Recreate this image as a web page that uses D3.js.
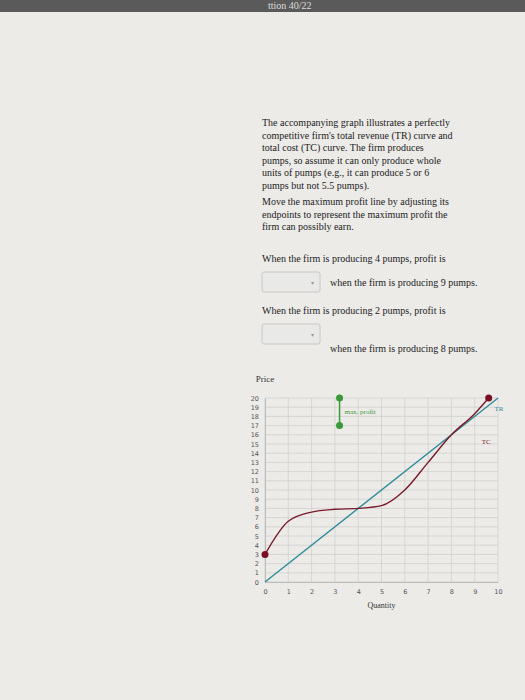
<!DOCTYPE html>
<html>
<head>
<meta charset="utf-8">
<script src="https://cdn.jsdelivr.net/npm/d3@7"></script>
<style>
body { margin:0; background:#d8d8d6; }
</style>
</head>
<body>
<script>
// chart data
var quantities = [0, 1, 2, 3, 4, 5, 6, 7, 8, 9, 9.6];
var tcValues = [3, 6.6, 7.6, 7.9, 8, 8.3, 10, 13, 16, 18.3, 20];
var trQuantities = [0, 10];
var trValues = [0, 20];
var maxProfitQ = 3.2;
var maxProfitEnds = [17, 20];
var priceTicks = d3.range(0, 21);
var qtyTicks = d3.range(0, 11);

var paragraphs = [
	"The accompanying graph illustrates a perfectly competitive firm's total revenue (TR) curve and total cost (TC) curve. The firm produces pumps, so assume it can only produce whole units of pumps (e.g., it can produce 5 or 6 pumps but not 5.5 pumps).",
	"Move the maximum profit line by adjusting its endpoints to represent the maximum profit the firm can possibly earn."
];

var width = 525, height = 700;
var svg = d3.select('body').append('svg')
	.attr('width', width)
	.attr('height', height);

// page background
svg.append('rect').attr('width', width).attr('height', height).attr('fill', '#ecebe8');
svg.append('rect').attr('x', 0).attr('y', 0).attr('width', width).attr('height', 12).attr('fill', '#5a5a5a');
svg.append('text').attr('x', 268).attr('y', 9).attr('font-family', 'Liberation Serif')
	.attr('font-size', '10px').attr('fill', '#ddd').text('ttion 40/22');

var fs = '10px';
function wrap(txt, x, y, maxW, lh)
{
	var t = svg.append('text').attr('x', x).attr('y', y)
		.attr('font-family', 'Liberation Serif').attr('font-size', fs).attr('fill', '#222');
	var words = txt.split(' '), line = [], n = 0;
	var ts = t.append('tspan').attr('x', x).attr('y', y);
	words.forEach(function(w) {
		line.push(w);
		ts.text(line.join(' '));
		if (ts.node().getComputedTextLength() > maxW && line.length > 1) {
			line.pop();
			ts.text(line.join(' '));
			line = [w];
			n++;
			ts = t.append('tspan').attr('x', x).attr('y', y + n * lh).text(w);
		}
	});
	return y + (n + 1) * lh;
}

var yy = wrap(paragraphs[0], 262, 126, 192, 12.5);
yy = wrap(paragraphs[1], 262, yy + 4, 192, 12.5);

function line(txt, x, y) {
	svg.append('text').attr('x', x).attr('y', y).attr('font-family', 'Liberation Serif')
		.attr('font-size', fs).attr('fill', '#222').text(txt);
}
function box(x, y) {
	svg.append('rect').attr('x', x).attr('y', y).attr('width', 58).attr('height', 20).attr('rx', 2)
		.attr('fill', '#e9e9e7').attr('stroke', '#c8c8c8');
	svg.append('text').attr('x', x + 49).attr('y', y + 13).attr('font-size', '6px').attr('fill', '#999').text('▾');
}
line('When the firm is producing 4 pumps, profit is', 262, 262);
box(262, 272);
line('when the firm is producing 9 pumps.', 330, 286);
line('When the firm is producing 2 pumps, profit is', 262, 314);
box(262, 324);
line('when the firm is producing 8 pumps.', 330, 352);

// chart
var x = d3.scaleLinear().domain([0, 10]).range([265, 498]);
var y = d3.scaleLinear().domain([0, 20]).range([582, 398]);
var g = svg.append('g');

g.selectAll('.vg').data(qtyTicks).enter().append('line')
	.attr('x1', d => x(d)).attr('x2', d => x(d)).attr('y1', y(0)).attr('y2', y(20))
	.attr('stroke', '#cfcfcf').attr('stroke-width', 0.8);
g.selectAll('.hg').data(priceTicks).enter().append('line')
	.attr('x1', x(0)).attr('x2', x(10)).attr('y1', d => y(d)).attr('y2', d => y(d))
	.attr('stroke', '#cfcfcf').attr('stroke-width', 0.8);

var yAxis = g.append('g').attr('transform', 'translate(' + x(0) + ',0)')
	.call(d3.axisLeft(y).tickValues(priceTicks).tickSize(0).tickPadding(6));
var xAxis = g.append('g').attr('transform', 'translate(0,' + y(0) + ')')
	.call(d3.axisBottom(x).tickValues(qtyTicks).tickSize(0).tickPadding(7));
[yAxis, xAxis].forEach(function(a) {
	a.select('.domain').attr('stroke', '#bbb');
	a.selectAll('text').attr('font-family', 'DejaVu Sans').attr('font-size', '6.5px').attr('fill', '#555');
});

svg.append('text').attr('x', x(0)).attr('y', 382).attr('text-anchor', 'middle')
	.attr('font-family', 'Liberation Serif').attr('font-size', '9px').attr('fill', '#333').text('Price');
svg.append('text').attr('x', x(5)).attr('y', 608).attr('text-anchor', 'middle')
	.attr('font-family', 'Liberation Serif').attr('font-size', '8px').attr('fill', '#333').text('Quantity');

// TR line
g.append('line')
	.attr('x1', x(trQuantities[0])).attr('y1', y(trValues[0]))
	.attr('x2', x(trQuantities[1])).attr('y2', y(trValues[1]))
	.attr('stroke', '#2e8b9a').attr('stroke-width', 1.4);

// TC curve
var tcPts = quantities.map((q, i) => [q, tcValues[i]]);
g.append('path').datum(tcPts)
	.attr('d', d3.line().x(d => x(d[0])).y(d => y(d[1])).curve(d3.curveMonotoneX))
	.attr('fill', 'none').attr('stroke', '#7a1a2a').attr('stroke-width', 1.4);
g.selectAll('.tcdot').data([tcPts[0], tcPts[tcPts.length - 1]]).enter().append('circle')
	.attr('cx', d => x(d[0])).attr('cy', d => y(d[1])).attr('r', 3.5).attr('fill', '#7a0f22');

g.append('text').attr('x', x(9.3)).attr('y', y(15)).attr('font-family', 'Liberation Serif')
	.attr('font-size', '7px').attr('fill', '#7a1a2a').text('TC');
g.append('text').attr('x', x(9.85)).attr('y', y(18.6)).attr('font-family', 'Liberation Serif')
	.attr('font-size', '7px').attr('fill', '#2e8b9a').text('TR');

// max profit line
g.append('line')
	.attr('x1', x(maxProfitQ)).attr('x2', x(maxProfitQ))
	.attr('y1', y(maxProfitEnds[0])).attr('y2', y(maxProfitEnds[1]))
	.attr('stroke', '#3a9a3a').attr('stroke-width', 1.5);
g.selectAll('.mp').data(maxProfitEnds).enter().append('circle')
	.attr('cx', x(maxProfitQ)).attr('cy', d => y(d)).attr('r', 3.5).attr('fill', '#3a9a3a');
g.append('text').attr('x', x(maxProfitQ) + 5).attr('y', y(18.3)).attr('font-family', 'Liberation Serif')
	.attr('font-size', '7px').attr('fill', '#3a9a3a').text('max. profit');
</script>
</body>
</html>
